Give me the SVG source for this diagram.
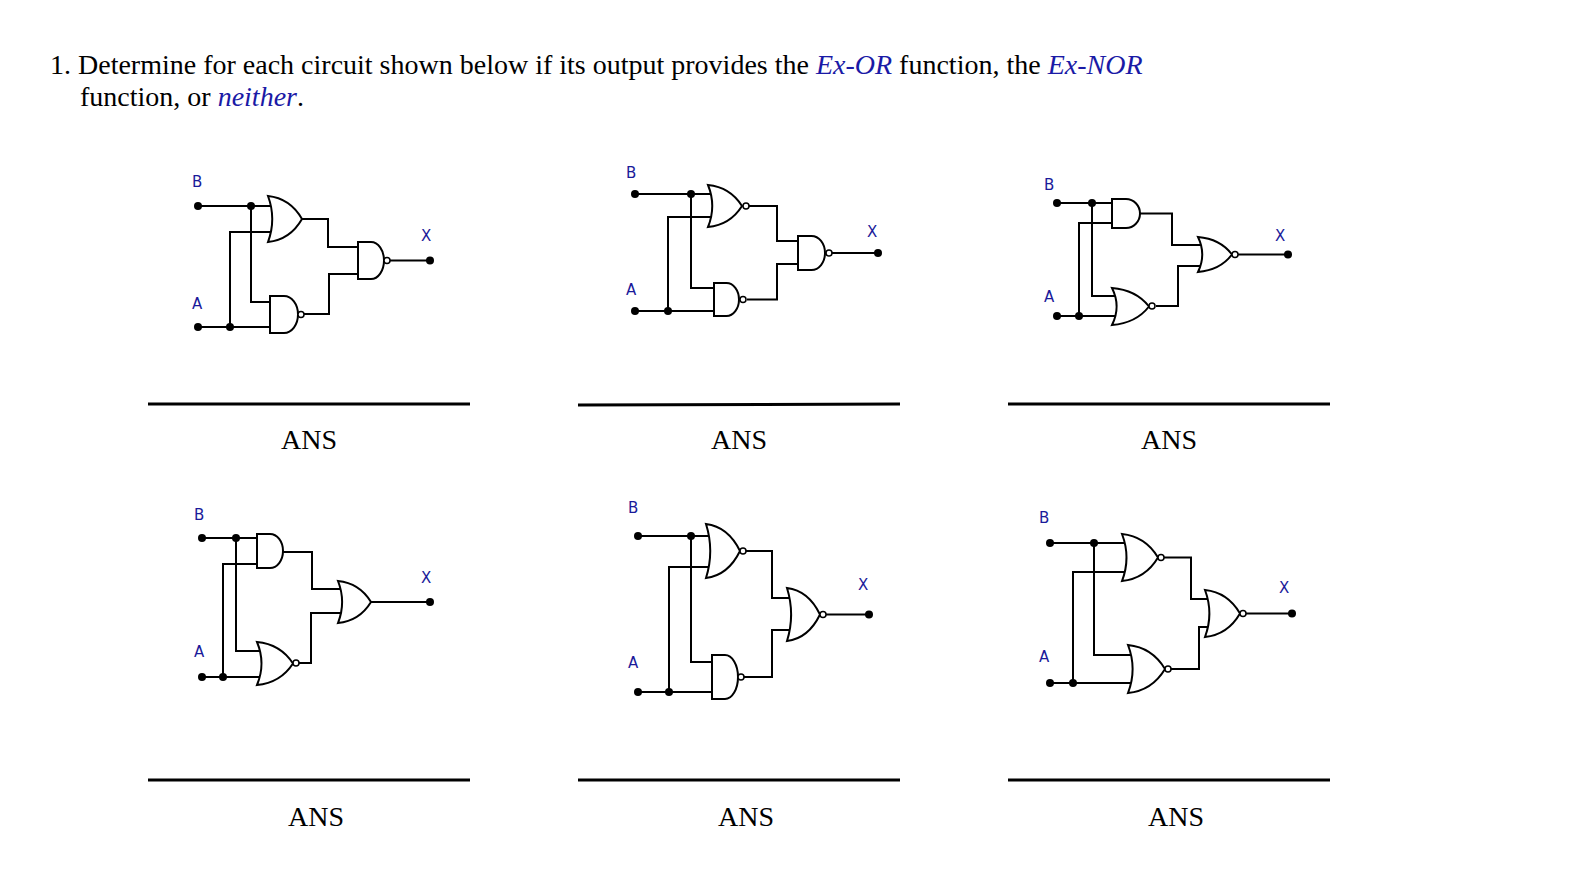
<svg xmlns="http://www.w3.org/2000/svg" xmlns:xlink="http://www.w3.org/1999/xlink" width="1576" height="882" viewBox="0 0 1576 882">
<style>
.g{fill:#fff;stroke:#000;stroke-width:2;vector-effect:non-scaling-stroke}
.w{fill:none;stroke:#000;stroke-width:2}
.d{fill:#000}
.b{fill:#fff;stroke:#000;stroke-width:1.5}
.lb{font-family:"DejaVu Sans",sans-serif;font-size:15px;fill:#1a1a9a}
.t{font-family:"Liberation Serif",serif;font-size:28px;fill:#000}
.bl{fill:#1a1aa6;font-style:italic}
.ans{stroke:#000;stroke-width:3}
</style>
<defs>
<path id="and" class="g" d="M0,0 H20 A20,20 0 0 1 20,40 H0 Z"/>
<path id="or" class="g" d="M0,0 Q26,2 40,20 Q26,38 0,40 Q10,20 0,0 Z"/>
</defs>
<rect width="1576" height="882" fill="#fff"/>
<text class="t" x="50" y="74">1. Determine for each circuit shown below if its output provides the <tspan class="bl">Ex-OR</tspan> function, the <tspan class="bl">Ex-NOR</tspan></text>
<text class="t" x="80" y="106">function, or <tspan class="bl">neither</tspan>.</text>
<g id="answers">
<line class="ans" x1="148" y1="404" x2="470" y2="404"/><line class="ans" x1="578" y1="405" x2="900" y2="404"/><line class="ans" x1="1008" y1="404" x2="1330" y2="404"/>
<line class="ans" x1="148" y1="780" x2="470" y2="780"/><line class="ans" x1="578" y1="780" x2="900" y2="780"/><line class="ans" x1="1008" y1="780" x2="1330" y2="780"/>
<text class="t" x="309" y="449" text-anchor="middle">ANS</text><text class="t" x="739" y="449" text-anchor="middle">ANS</text><text class="t" x="1169" y="449" text-anchor="middle">ANS</text>
<text class="t" x="316" y="826" text-anchor="middle">ANS</text><text class="t" x="746" y="826" text-anchor="middle">ANS</text><text class="t" x="1176" y="826" text-anchor="middle">ANS</text>
</g>
<g id="connectors">
<path class="w" d="M198,206H272 M251,206V302H270 M198,327H270 M230,327V232H272 M302,219H328V247H358 M304,314H329V274H358 M390,260.5H430"/>
<path class="w" d="M635,194H712 M691,194V288H714 M635,311H714 M668,311V217H712 M749,206H777V241H798 M747,299.5H777V264H798 M832,253H878"/>
<path class="w" d="M1057,203H1112 M1092,203V296H1116 M1057,316H1116 M1079,316V223H1112 M1140,213.5H1172V245H1201 M1156,306H1178V266H1201 M1238,254.5H1288"/>
<path class="w" d="M202,538H257 M236,538V651H261 M202,677H261 M223,677V564H257 M283,552H312V589H341 M299,663H311V613H341 M371,602H430"/>
<path class="w" d="M638,536H710 M691,536V662H712 M638,692H712 M669,692V567H710 M746,551H772V598H791 M744,677H772V630H791 M826,614.5H869"/>
<path class="w" d="M1050,543H1126 M1094,543V655H1132 M1050,683H1132 M1073,683V572H1126 M1164,557.5H1191V599H1209 M1171,669H1199V627H1209 M1246,613.5H1292"/>
</g>
<g id="dots">
<circle class="d" cx="198" cy="206" r="4"/><circle class="d" cx="251" cy="206" r="4"/><circle class="d" cx="198" cy="327" r="4"/><circle class="d" cx="230" cy="327" r="4"/><circle class="d" cx="430" cy="260.5" r="4"/>
<circle class="d" cx="635" cy="194" r="4"/><circle class="d" cx="691" cy="194" r="4"/><circle class="d" cx="635" cy="311" r="4"/><circle class="d" cx="668" cy="311" r="4"/><circle class="d" cx="878" cy="253" r="4"/>
<circle class="d" cx="1057" cy="203" r="4"/><circle class="d" cx="1092" cy="203" r="4"/><circle class="d" cx="1057" cy="316" r="4"/><circle class="d" cx="1079" cy="316" r="4"/><circle class="d" cx="1288" cy="254.5" r="4"/>
<circle class="d" cx="202" cy="538" r="4"/><circle class="d" cx="236" cy="538" r="4"/><circle class="d" cx="202" cy="677" r="4"/><circle class="d" cx="223" cy="677" r="4"/><circle class="d" cx="430" cy="602" r="4"/>
<circle class="d" cx="638" cy="536" r="4"/><circle class="d" cx="691" cy="536" r="4"/><circle class="d" cx="638" cy="692" r="4"/><circle class="d" cx="669" cy="692" r="4"/><circle class="d" cx="869" cy="614.5" r="4"/>
<circle class="d" cx="1050" cy="543" r="4"/><circle class="d" cx="1094" cy="543" r="4"/><circle class="d" cx="1050" cy="683" r="4"/><circle class="d" cx="1073" cy="683" r="4"/><circle class="d" cx="1292" cy="613.5" r="4"/>
</g>
<g id="circuit1">
<use href="#or" transform="translate(268,196) scale(.85,1.15)"/>
<use href="#and" transform="translate(270,296) scale(.7,.925)"/><circle class="b" cx="301" cy="314.5" r="3"/>
<use href="#and" transform="translate(358,242) scale(.65,.925)"/><circle class="b" cx="387" cy="260.5" r="3"/>
<text class="lb" x="192" y="187">B</text><text class="lb" x="192" y="309">A</text><text class="lb" x="421" y="241">X</text>
</g>
<g id="circuit2">
<use href="#or" transform="translate(708,185) scale(.85,1.05)"/><circle class="b" cx="746" cy="206" r="3"/>
<use href="#and" transform="translate(798,236) scale(.675,.85)"/><circle class="b" cx="829" cy="253" r="3"/>
<use href="#and" transform="translate(714,283) scale(.625,.825)"/><circle class="b" cx="743" cy="299.5" r="3"/>
<text class="lb" x="626" y="178">B</text><text class="lb" x="626" y="295">A</text><text class="lb" x="867" y="237">X</text>
</g>
<g id="circuit3">
<use href="#and" transform="translate(1112,199) scale(.7,.725)"/>
<use href="#or" transform="translate(1112,288) scale(.925,.925)"/><circle class="b" cx="1152" cy="306" r="3"/>
<use href="#or" transform="translate(1198,237) scale(.85,.875)"/><circle class="b" cx="1235" cy="254.5" r="3"/>
<text class="lb" x="1044" y="190">B</text><text class="lb" x="1044" y="302">A</text><text class="lb" x="1275" y="241">X</text>
</g>
<g id="circuit4">
<use href="#and" transform="translate(257,534) scale(.65,.85)"/>
<use href="#or" transform="translate(257,642) scale(.9,1.075)"/><circle class="b" cx="296" cy="663" r="3"/>
<use href="#or" transform="translate(338,581) scale(.825,1.05)"/>
<text class="lb" x="194" y="520">B</text><text class="lb" x="194" y="657">A</text><text class="lb" x="421" y="583">X</text>
</g>
<g id="circuit5">
<use href="#or" transform="translate(706,524) scale(.85,1.35)"/><circle class="b" cx="743" cy="551" r="3"/>
<use href="#or" transform="translate(787,588) scale(.825,1.325)"/><circle class="b" cx="823" cy="614.5" r="3"/>
<use href="#and" transform="translate(712,655) scale(.65,1.1)"/><circle class="b" cx="741" cy="677" r="3"/>
<text class="lb" x="628" y="513">B</text><text class="lb" x="628" y="668">A</text><text class="lb" x="858" y="590">X</text>
</g>
<g id="circuit6">
<use href="#or" transform="translate(1122,534) scale(.9,1.175)"/><circle class="b" cx="1161" cy="557.5" r="3"/>
<use href="#or" transform="translate(1205,590) scale(.875,1.175)"/><circle class="b" cx="1243" cy="613.5" r="3"/>
<use href="#or" transform="translate(1128,645) scale(.925,1.2)"/><circle class="b" cx="1168" cy="669" r="3"/>
<text class="lb" x="1039" y="523">B</text><text class="lb" x="1039" y="662">A</text><text class="lb" x="1279" y="593">X</text>
</g>
</svg>
